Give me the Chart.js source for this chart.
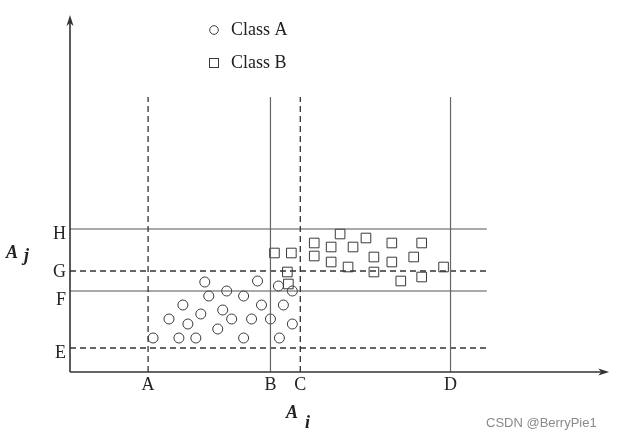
<html>
<head>
    <script src="https://cdn.jsdelivr.net/npm/chart.js@4.4.0/dist/chart.umd.min.js"></script>
    <style>
        body {
            margin: 0;
            background: #fff;
        }
        #wrap {
            position: relative;
            width: 617px;
            height: 439px;
        }
    </style>
</head>
<body>
    <div id="wrap">
        <canvas id="partChart" width="617" height="439"></canvas>
    </div>
    <script>
        // axis extent (data units, origin at the axis corner)
        const xMax = 542;
        const yMax = 357;

        // split positions on the two attributes
        const xSplitLabels = ["A", "B", "C", "D"];
        const xSplitValues = [78, 201, 231, 382];
        const xSplitDashed = [true, false, true, false];
        const ySplitLabels = ["H", "G", "F", "E"];
        const ySplitValues = [143, 101, 81, 24];
        const ySplitDashed = [false, true, false, true];
        const vLineTop = 275;   // how high the vertical split lines reach
        const hLineEnd = 419;   // how far the horizontal split lines reach

        // Class A (circles)
        const classAx = [135, 188, 209, 223, 139, 157, 174, 113, 192, 214, 131, 153, 99, 118, 162, 182, 201, 223, 148, 83, 109, 126, 174, 210];
        const classAy = [90, 91, 86, 81, 76, 81, 76, 67, 67, 67, 58, 62, 53, 48, 53, 53, 53, 48, 43, 34, 34, 34, 34, 34];

        // Class B (squares)
        const classBx = [271, 297, 245, 262, 284, 323, 353, 205, 222, 245, 262, 305, 323, 345, 279, 305, 218, 375, 332, 353, 219];
        const classBy = [138, 134, 129, 125, 125, 129, 129, 119, 119, 116, 110, 115, 110, 115, 105, 100, 100, 105, 91, 95, 88];

        const ink = "#3a3a3a";
        const serif = "'Liberation Serif', 'DejaVu Serif', serif";

        function zipPts(xs, ys) {
            return xs.map((x, i) => ({ x: x + 0.5, y: ys[i] }));
        }

        const datasets = [];
        xSplitValues.forEach((v, i) => {
            datasets.push({
                type: "line",
                data: [{ x: v + 0.5, y: 0 }, { x: v + 0.5, y: vLineTop }],
                borderColor: xSplitDashed[i] ? "#333" : "#666",
                borderWidth: xSplitDashed[i] ? 1.3 : 1.2,
                borderDash: xSplitDashed[i] ? [6, 4] : [],
                pointRadius: 0,
                clip: false,
            });
        });
        ySplitValues.forEach((v, i) => {
            datasets.push({
                type: "line",
                data: [{ x: 0, y: v }, { x: hLineEnd, y: v }],
                borderColor: ySplitDashed[i] ? "#333" : "#555",
                borderWidth: ySplitDashed[i] ? 1.3 : 1.2,
                borderDash: ySplitDashed[i] ? [6, 4] : [],
                pointRadius: 0,
                clip: false,
            });
        });
        datasets.push({
            label: "Class A",
            data: zipPts(classAx, classAy),
            pointStyle: "circle",
            pointRadius: 5,
            borderColor: ink,
            borderWidth: 1,
            backgroundColor: "rgba(0,0,0,0)",
            clip: false,
        });
        datasets.push({
            label: "Class B",
            data: zipPts(classBx, classBy),
            pointStyle: "rect",
            pointRadius: 6.8,
            borderColor: ink,
            borderWidth: 1,
            backgroundColor: "rgba(0,0,0,0)",
            clip: false,
        });

        // axes, arrows, labels, legend and watermark
        const decor = {
            id: "decor",
            afterDatasetsDraw(chart) {
                const ctx = chart.ctx;
                const xs = chart.scales.x;
                const ys = chart.scales.y;
                const x0 = xs.getPixelForValue(0);
                const y0 = ys.getPixelForValue(0);
                const xEnd = xs.getPixelForValue(xMax);
                const yEnd = ys.getPixelForValue(yMax);
                ctx.save();
                ctx.strokeStyle = "#333";
                ctx.fillStyle = "#333";
                ctx.lineWidth = 1.6;
                ctx.beginPath();
                ctx.moveTo(x0, y0);
                ctx.lineTo(xEnd - 4, y0);
                ctx.moveTo(x0, y0);
                ctx.lineTo(x0, yEnd + 4);
                ctx.stroke();
                // arrow heads
                ctx.beginPath();
                ctx.moveTo(xEnd, y0);
                ctx.lineTo(xEnd - 11, y0 - 3.5);
                ctx.lineTo(xEnd - 8, y0);
                ctx.lineTo(xEnd - 11, y0 + 3.5);
                ctx.closePath();
                ctx.fill();
                ctx.beginPath();
                ctx.moveTo(x0, yEnd);
                ctx.lineTo(x0 - 3.5, yEnd + 11);
                ctx.lineTo(x0, yEnd + 8);
                ctx.lineTo(x0 + 3.5, yEnd + 11);
                ctx.closePath();
                ctx.fill();

                // tick labels
                ctx.fillStyle = "#222";
                ctx.font = "18px " + serif;
                ctx.textAlign = "center";
                ctx.textBaseline = "alphabetic";
                xSplitLabels.forEach((t, i) => {
                    ctx.fillText(t, xs.getPixelForValue(xSplitValues[i] + 0.5), y0 + 18);
                });
                ctx.textAlign = "right";
                const yOff = [10, 6, 14, 10];
                ySplitLabels.forEach((t, i) => {
                    ctx.fillText(t, x0 - 4, ys.getPixelForValue(ySplitValues[i]) + yOff[i]);
                });

                // axis titles
                ctx.textAlign = "left";
                ctx.font = "italic bold 18px " + serif;
                ctx.fillText("A", 286, 418);
                ctx.fillText("i", 305, 428);
                ctx.fillText("A", 6, 258);
                ctx.fillText("j", 24, 261);

                // legend
                ctx.font = "18px " + serif;
                ctx.textBaseline = "middle";
                ctx.lineWidth = 1;
                ctx.strokeStyle = ink;
                ctx.beginPath();
                ctx.arc(214, 30, 4.3, 0, Math.PI * 2);
                ctx.stroke();
                ctx.fillText("Class A", 231, 30);
                ctx.strokeRect(209.5, 58.5, 9, 9);
                ctx.fillText("Class B", 231, 63);

                // watermark
                ctx.fillStyle = "#8a8a8a";
                ctx.font = "13px 'Liberation Sans', 'DejaVu Sans', sans-serif";
                ctx.fillText("CSDN @BerryPie1", 486, 423);
                ctx.restore();
            }
        };

        new Chart(document.getElementById("partChart"), {
            type: "scatter",
            data: { datasets: datasets },
            options: {
                responsive: false,
                animation: false,
                layout: { padding: { left: 70, right: 5, top: 15, bottom: 67 } },
                scales: {
                    x: { type: "linear", min: 0, max: xMax, display: false },
                    y: { type: "linear", min: 0, max: yMax, display: false },
                },
                plugins: {
                    legend: { display: false },
                    tooltip: { enabled: false },
                    title: { display: false },
                },
            },
            plugins: [decor],
        });
    </script>
</body>
</html>
